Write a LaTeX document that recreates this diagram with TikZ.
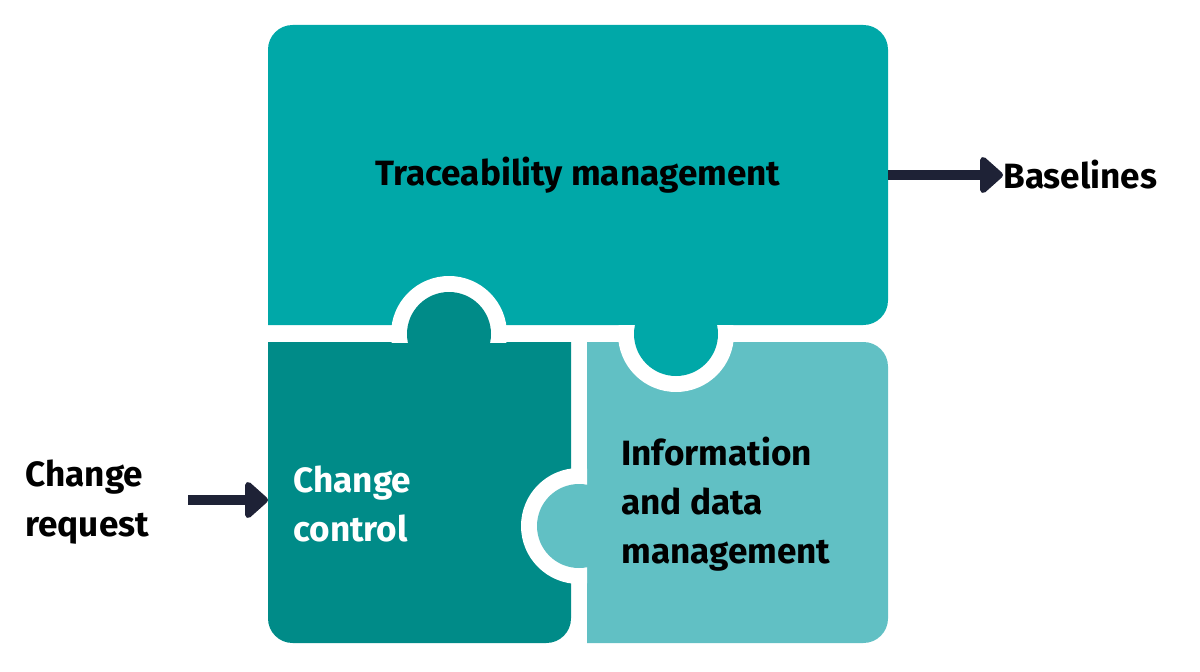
\documentclass[tikz,border=0pt]{standalone}
\usepackage{fontspec}
\setmainfont{Fira Sans}
\usetikzlibrary{arrows.meta}
\definecolor{tealtop}{RGB}{0,168,168}
\definecolor{tealdark}{RGB}{0,139,136}
\definecolor{teallight}{RGB}{97,192,196}
\definecolor{navy}{RGB}{30,34,54}
\tikzset{
  label/.style={font=\fontsize{20}{28}\selectfont\bfseries, align=left, inner sep=0pt},
  flow/.style={navy, line width=5.5pt, -{Triangle[round, length=14pt, width=24pt]}},
}
\begin{document}
\begin{tikzpicture}[x=0.02cm, y=-0.02cm]
  \useasboundingbox (0,0) rectangle (1200,672);
  % the three pieces
  \fill[tealtop, rounded corners=14pt] (268,325) -- (268,25) -- (888,25) -- (888,325) [sharp corners] -- cycle;
  \fill[tealdark] (571,342) -- (268,342) [rounded corners=14pt] -- (268,643) -- (571,643) [sharp corners] -- cycle;
  \fill[teallight] (587,342) -- (587,643) [rounded corners=14pt] -- (888,643) -- (888,342) [sharp corners] -- cycle;

  % knob of change control, into the top piece
  \begin{scope}
    \clip (380,250) rectangle (520,342);
    \fill[white] (449,334) circle (58);
  \end{scope}
  \fill[tealdark] (449,334) circle (42);
  % knob of the top piece, into the right piece
  \begin{scope}
    \clip (600,325) rectangle (750,420);
    \fill[white] (676,334) circle (58);
  \end{scope}
  \fill[tealtop] (676,334) circle (42);
  % knob of the right piece, into change control
  \begin{scope}
    \clip (500,440) rectangle (587,620);
    \fill[white] (579,526) circle (58);
  \end{scope}
  \fill[teallight] (579,526) circle (42);

  % Label the regions
  \node[label, anchor=center] (trace) at (578,175) {Traceability management};
  \node[label, anchor=west, white] (control) at (293,504) {Change\\control};
  \node[label, anchor=west] (info) at (621,504) {Information\\and data\\management};
  \node[label, anchor=west] (base) at (1003,175) {Baselines};
  \node[label, anchor=west] (request) at (25,502) {Change\\request};

  \coordinate (reqtail) at (188,500);
  \coordinate (ctlin) at (268,500);
  \coordinate (traceout) at (888,175);
  \draw[flow] (reqtail) -- (ctlin);
  \draw[flow] (traceout) -- (base.west);
\end{tikzpicture}
\end{document}
